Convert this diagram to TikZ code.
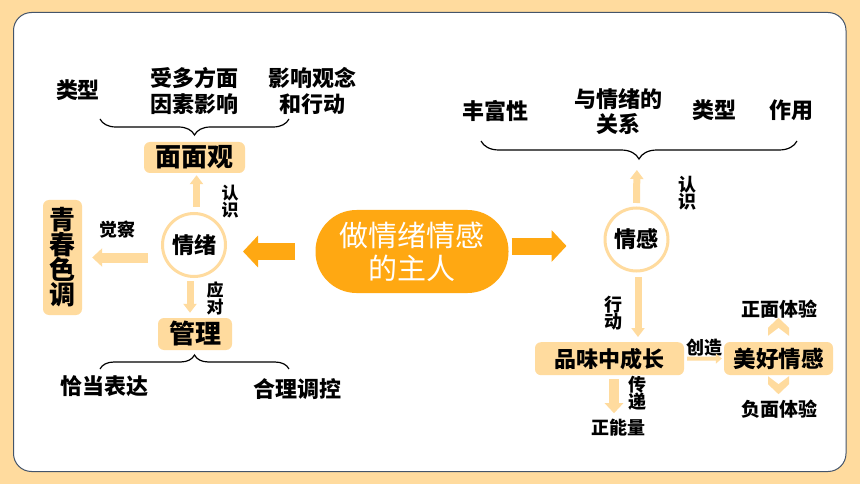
\documentclass[tikz,border=0pt]{standalone}
\usepackage{fontspec}
\newfontfamily\cjk{Noto Sans CJK SC}
\usetikzlibrary{arrows.meta,decorations.pathreplacing}
\definecolor{lt}{HTML}{FFDB9E}
\definecolor{og}{HTML}{FFA812}
\definecolor{fr}{HTML}{44546A}

\begin{document}
\begin{tikzpicture}
[x=1pt, y=-1pt, inner sep=0pt,
t22/.style={font=\cjk\bfseries\fontsize{22}{26.5}\selectfont, align=center},
t26/.style={font=\cjk\bfseries\fontsize{26}{25}\selectfont, align=center},
t18/.style={font=\cjk\bfseries\fontsize{18}{17.5}\selectfont, align=center},
box/.style={fill=lt, rounded corners=6pt},
ring/.style={circle, draw=lt, line width=3pt, fill=white, minimum size=63pt},
la/.style={draw=lt, line width=7pt, -{Triangle[width=13pt,length=9pt]}},
lb/.style={draw=lt, line width=10pt, -{Triangle[width=18pt,length=10pt]}},
lc/.style={draw=lt, line width=4pt, -{Triangle[width=10pt,length=6pt]}},
ba/.style={draw=og, line width=17pt, -{Triangle[width=31pt,length=15pt]}},
br/.style={decorate, decoration={brace, amplitude=#1}, line width=1.2pt}]

\fill[lt] (0,0) rectangle (860,484);
\draw[fr, fill=white, rounded corners=18pt, line width=1pt] (13.5,12.5) rectangle (846,471.5);

\node (lx) at (78,90) [t22] {类型};
\node (ys) at (194,91) [t22] {受多方面\\因素影响};
\node (yx) at (312,91) [t22] {影响观念\\和行动};
\node (mm) at (194.5,157.5) [box, t26, minimum width=101pt, minimum height=31pt] {面面观};
\node (rz) at (230,201.5) [t18, font=\cjk\bfseries\fontsize{17}{17}\selectfont] {认\\识};
\node (qx) at (194,245) [ring, t22] {情绪};
\node (jc) at (117,230) [t18] {觉察};
\node (qc) at (62.5,257.5) [box, t26, minimum width=39pt, minimum height=115pt] {青\\春\\色\\调};
\node (yd) at (215,298.5) [t18, font=\cjk\bfseries\fontsize{17}{17}\selectfont] {应\\对};
\node (gl) at (195,334) [box, t26, minimum width=74pt, minimum height=32pt] {管理};
\node (qd) at (104,386) [t22] {恰当表达};
\node (hl) at (297,389) [t22] {合理调控};

\node (zr) at (412,251.5) [fill=og, rounded corners=41pt, minimum width=193pt, minimum height=83pt,
  text=white, align=center, font=\cjk\fontsize{29}{33}\selectfont] {做情绪情感\\的主人};

\node (fx) at (495,110.5) [t22] {丰富性};
\node (yq) at (618,112) [t22, font=\cjk\bfseries\fontsize{22}{25}\selectfont] {与情绪的\\关系};
\node (lx2) at (714,110) [t22] {类型};
\node (zy) at (791,110) [t22] {作用};
\coordinate (rt) at (637,159);
\node (qg) at (636.5,239.5) [ring, t22] {情感};
\node (rz2) at (687,193) [t18] {认\\识};
\node (xd) at (613,313) [t18] {行\\动};
\node (pw) at (609.5,358.7) [box, t22, minimum width=149pt, minimum height=33pt] {品味中成长};
\node (cz) at (704,348) [t18] {创造};
\node (mh) at (778.5,358.5) [box, t22, font=\cjk\bfseries\fontsize{22.5}{26}\selectfont, minimum width=109pt, minimum height=33pt] {美好情感};
\node (zm) at (779,308.7) [t18, font=\cjk\bfseries\fontsize{19}{19}\selectfont] {正面体验};
\node (fm) at (779,408.7) [t18, font=\cjk\bfseries\fontsize{19}{19}\selectfont] {负面体验};
\node (cd) at (637,393.5) [t18] {传\\递};
\node (zn) at (618,428) [t18] {正能量};

\draw[br=16pt] (289,119) -- (100,119);
\draw[br=14pt] (100,369) -- (289,369);
\draw[br=18pt] (797,141) -- (481,141);

\draw[la, shorten <=5pt, shorten >=2pt] ([xshift=2.5pt]qx.north) -- ([xshift=2.5pt]qx.north |- mm.south);
\draw[la, shorten <=3pt, shorten >=5pt] ([xshift=-4pt]qx.south) -- ([xshift=-4pt]qx.south |- gl.north);
\draw[lb, shorten <=13pt, shorten >=10pt] (qx.west |- qc.east) -- (qc.east);
\draw[ba, shorten <=20pt, shorten >=16pt] (zr.west) -- (zr.west -| qx.east);
\draw[ba, shorten <=3pt, shorten >=37pt] ([yshift=5.5pt]zr.east) -- ([yshift=5.5pt]zr.east -| qg.west);
\draw[la, shorten <=3.5pt, shorten >=11pt] (qg.north) -- (rt);
\draw[la, shorten <=4.5pt, shorten >=5pt] ([xshift=1.5pt]qg.south) -- ([xshift=1.5pt]qg.south |- pw.north);
\draw[lb, shorten <=4pt, shorten >=6pt] ([xshift=4.5pt]pw.south) -- ([xshift=4.5pt]pw.south |- zn.north);
\draw[lc, shorten <=3pt, shorten >=2pt] (pw.east) -- (mh.west);

\fill[lt, shift={(mh.north)}] (-10.5,-6) -- (-10.5,-14) -- (0,-24) -- (10.5,-14) -- (10.5,-6) -- (0,-14) -- cycle;
\fill[lt, shift={(mh.south)}] (-10.5,1) -- (-10.5,9) -- (0,19) -- (10.5,9) -- (10.5,1) -- (0,9) -- cycle;
\end{tikzpicture}
\end{document}
